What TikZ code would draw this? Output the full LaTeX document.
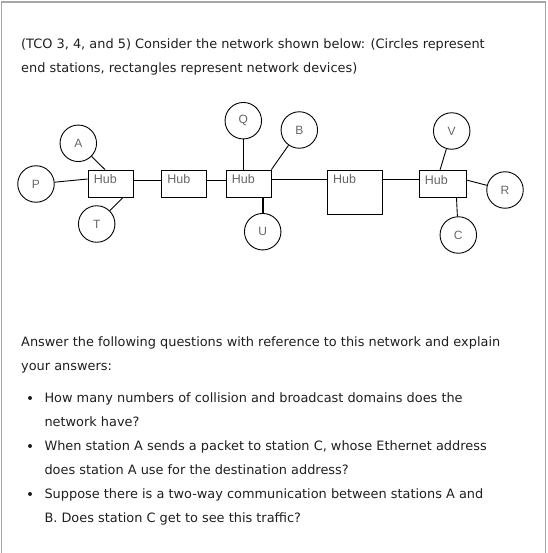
\documentclass[tikz,border=0pt]{standalone}
\usepackage{fontspec}
\setmainfont{DejaVu Sans}
\newfontfamily\figfont{Liberation Sans}
\usetikzlibrary{positioning}

\begin{document}
\begin{tikzpicture}[x=1pt,y=-1pt,
    station/.style={draw,circle,minimum size=36.5pt,inner sep=0pt,line width=.9pt,
      font=\figfont\fontsize{12}{12}\selectfont,text=black!60},
    hub/.style={draw,rectangle,minimum width=45pt,minimum height=27pt,inner sep=0pt,line width=.8pt,
      label={[anchor=north west,inner xsep=6pt,inner ysep=5pt,
        font=\figfont\fontsize{12.5}{13}\selectfont,text=black!60]north west:Hub}},
    link/.style={line width=.9pt},
    trunk/.style={line width=1.6pt},
    para/.style={anchor=base west,inner sep=0pt,font=\fontsize{12.9}{14}\selectfont,text=black!88},
    dot/.style={circle,fill=black!88,inner sep=0pt,minimum size=4pt}]
  \useasboundingbox (0,0) rectangle (547,553);
  \draw[black!35,line width=1.2pt] (1.5,553) -- (1.5,2) -- (545.5,2) -- (545.5,553);

  % question header
  \node[para] (head1) at (21,49) {(TCO 3, 4, and 5) Consider the network shown below: (Circles represent};
  \node[para] (head2) at (21,73) {end stations, rectangles represent network devices)};

  % network devices
  \node[hub] (hub1) at (110.5,183.5) {};
  \node[hub] (hub2) at (184,183.5) {};
  \node[hub] (hub3) at (248.5,183.5) {};
  \node[hub,minimum width=55.5pt,minimum height=44pt] (hub4) at (355,192) {};
  \node[hub,minimum width=47pt] (hub5) at (442.5,184) {};

  % end stations
  \node[station] (P) at (36,184) {P};
  \node[station] (A) at (78.3,143.3) {A};
  \node[station] (T) at (96.7,224) {T};
  \node[station] (Q) at (243.3,120.7) {Q};
  \node[station] (U) at (262.7,231.7) {U};
  \node[station] (B) at (299.3,130) {B};
  \node[station] (V) at (451.7,131) {V};
  \node[station] (R) at (505,190) {R};
  \node[station] (C) at (458.3,235) {C};

  \draw[link] (P) -- ([yshift=4.5pt]hub1.west);
  \draw[link] (A) -- ([xshift=-5.5pt]hub1.north);
  \draw[link] ([xshift=12.5pt]hub1.south) -- (T);
  \draw[link,line width=1.2pt] ([yshift=3pt]hub1.east) -- ([yshift=3pt]hub2.west);
  \draw[trunk] ([yshift=3pt]hub2.east) -- ([yshift=3pt]hub3.west);
  \draw[trunk] (Q) -- (Q |- hub3.north);
  \draw[trunk] (U |- hub3.south) -- (U);
  \draw[link] (B) -- (hub3.north east);
  \draw[trunk] ([yshift=4pt]hub3.east) -- ([yshift=4pt]hub3.east -| hub4.west);
  \draw[link] ([yshift=5pt]hub5.west -| hub4.east) -- ([yshift=5pt]hub5.west);
  \draw[link] (V) -- ([xshift=-2.5pt]hub5.north);
  \draw[link] ([yshift=4pt]hub5.east) -- (R);
  \draw[link] ([xshift=14pt]hub5.south) -- (C);

  % questions
  \node[para] (ask1) at (21,346) {Answer the following questions with reference to this network and explain};
  \node[para] (ask2) at (21,370) {your answers:};
  \foreach \y/\txt [count=\i] in {402/How many numbers of collision and broadcast domains does the,
      426/network have?,
      450/{When station A sends a packet to station C, whose Ethernet address},
      474/does station A use for the destination address?,
      498/Suppose there is a two-way communication between stations A and,
      522/B. Does station C get to see this traffic?}
    \node[para] (item\i) at (44.3,\y) {\txt};
  \foreach \y [count=\i] in {398,446,494}
    \node[dot] (bullet\i) at (30,\y) {};
\end{tikzpicture}
\end{document}
